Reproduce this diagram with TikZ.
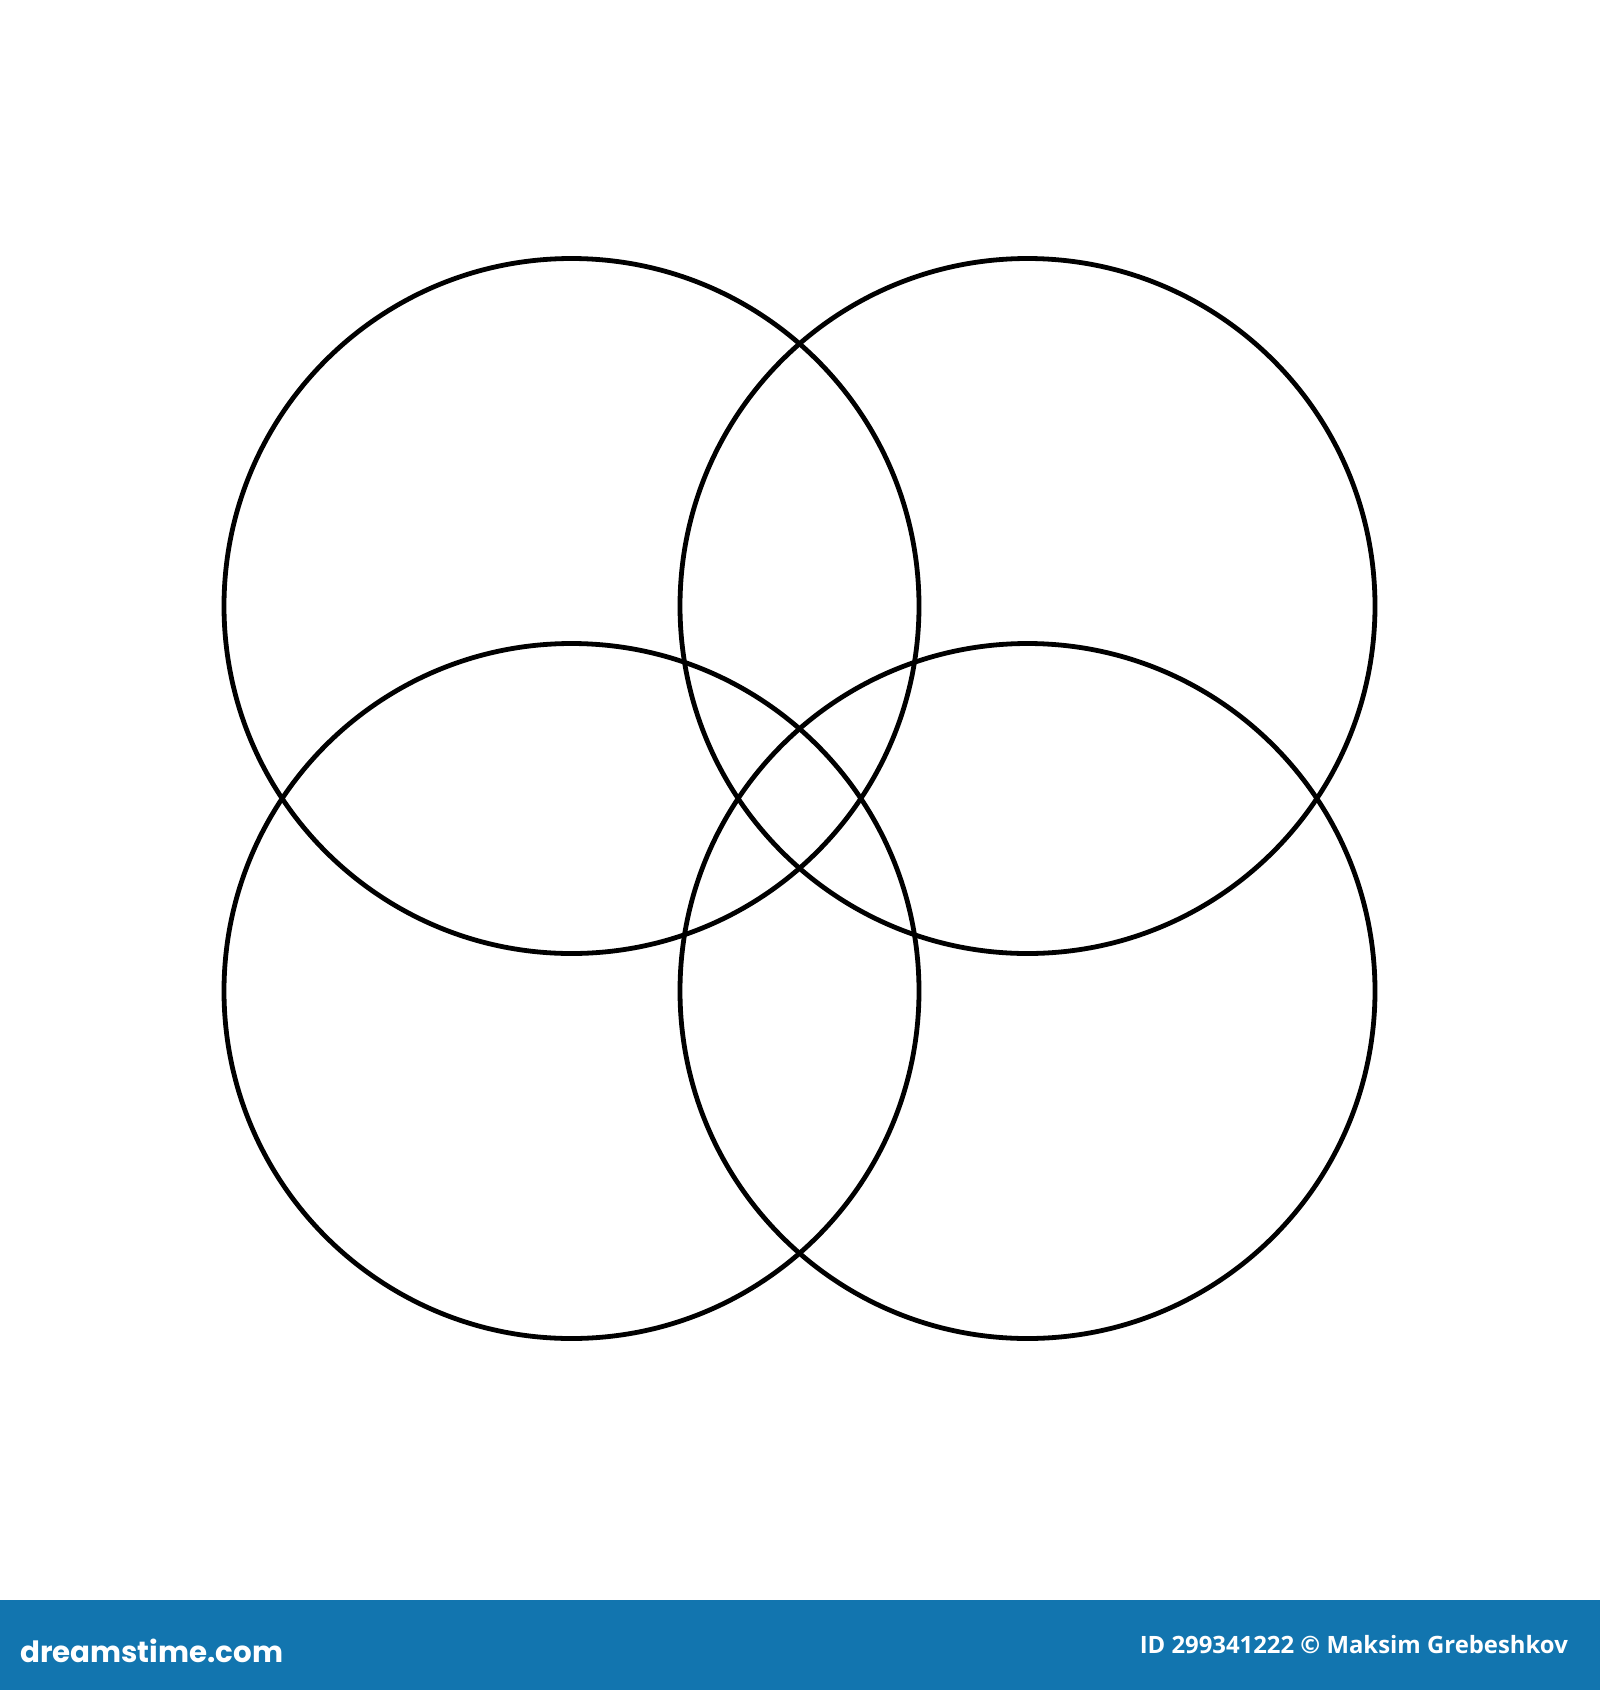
\documentclass[tikz,border=0pt]{standalone}
\usepackage{fontspec}
\newfontfamily\logofont{Poppins}
\newfontfamily\idfont{Open Sans}
\definecolor{banner}{RGB}{18,117,175}
\begin{document}
\begin{tikzpicture}[x=1pt,y=-1pt,
  ring/.style={circle,draw=black,line width=4.8pt,inner sep=0pt,outer sep=0pt,minimum size=695pt}]
\useasboundingbox (0,0) rectangle (1600,1690);
\fill[white] (0,0) rectangle (1600,1690);
\node[ring] (tl) at (571.5,606) {};
\node[ring] (tr) at (1027.5,606) {};
\node[ring] (bl) at (571.5,991) {};
\node[ring] (br) at (1027.5,991) {};
\fill[banner] (0,1600) rectangle (1600,1690);
\node[anchor=base west,inner sep=0pt,text=white] (logo) at (20,1662)
  {\resizebox{263pt}{!}{\logofont\bfseries dreamstime.com}};
\node[anchor=base east,inner sep=0pt,text=white] (id) at (1568,1653)
  {\resizebox{428pt}{!}{\idfont\bfseries ID 299341222 © Maksim Grebeshkov}};
\end{tikzpicture}
\end{document}
